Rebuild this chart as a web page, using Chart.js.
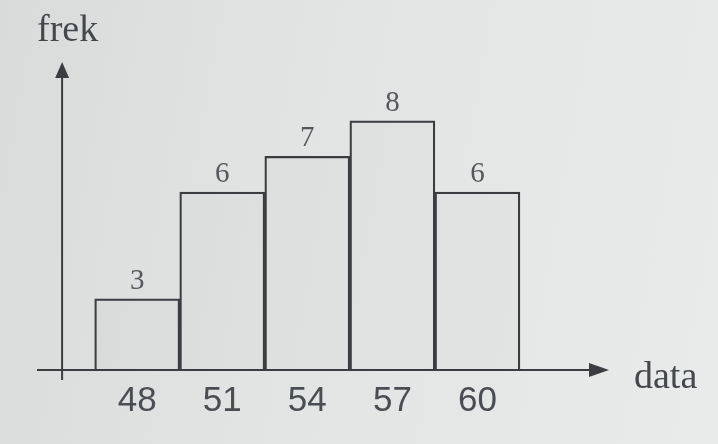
<!DOCTYPE html>
<html>
<head>
<meta charset="utf-8">
<script src="https://cdn.jsdelivr.net/npm/chart.js@4/dist/chart.umd.min.js"></script>
<style>
  html, body { margin: 0; padding: 0; }
  body {
    width: 718px; height: 444px; overflow: hidden;
    background: linear-gradient(100deg, #d9dbda 0%, #e2e4e3 40%, #e9ebea 100%);
  }
  canvas { display: block; }
</style>
</head>
<body>
<canvas id="histo" width="718" height="444"></canvas>
<script>
// Dati dell'istogramma
const classMarks = [48, 51, 54, 57, 60];
const frequencies = [3, 6, 7, 8, 6];
const xTickLabels = ["48", "51", "54", "57", "60"];
const axisTitles = ["frek", "data"];

const INK = "#3b3d40";
const TEXT = "#4a4d52";

// Assi con freccia + etichette sopra le barre
const axesPlugin = {
  id: "axesArrows",
  afterDatasetsDraw(chart) {
    const { ctx, chartArea, scales } = chart;
    const xs = scales.x;
    const yAxisX = xs.getPixelForValue(45.35);
    const baseY = chartArea.bottom;
    ctx.save();
    ctx.strokeStyle = INK;
    ctx.fillStyle = INK;
    ctx.lineWidth = 2;
    // asse y
    ctx.beginPath();
    ctx.moveTo(yAxisX, baseY + 10);
    ctx.lineTo(yAxisX, chartArea.top + 12);
    ctx.stroke();
    ctx.beginPath();
    ctx.moveTo(yAxisX, chartArea.top);
    ctx.lineTo(yAxisX - 7, chartArea.top + 16);
    ctx.lineTo(yAxisX + 7, chartArea.top + 16);
    ctx.closePath();
    ctx.fill();
    // freccia asse x
    ctx.beginPath();
    ctx.moveTo(chartArea.right + 4, baseY);
    ctx.lineTo(chartArea.right - 16, baseY - 7);
    ctx.lineTo(chartArea.right - 16, baseY + 7);
    ctx.closePath();
    ctx.fill();

    // numeri sopra le barre
    ctx.fillStyle = "#55585c";
    ctx.font = "29px 'Liberation Serif', 'DejaVu Serif', serif";
    ctx.textAlign = "center";
    ctx.textBaseline = "bottom";
    const meta = chart.getDatasetMeta(0);
    meta.data.forEach((bar, i) => {
      ctx.fillText(String(frequencies[i]), bar.x, bar.y - 3);
    });

    // titoli degli assi
    ctx.font = "38px 'Liberation Serif', 'DejaVu Serif', serif";
    ctx.textAlign = "left";
    ctx.textBaseline = "alphabetic";
    ctx.fillStyle = "#44474b";
    ctx.fillText(axisTitles[0], 37, 41);
    ctx.fillText(axisTitles[1], 634, baseY + 18);
    ctx.restore();
  }
};

new Chart(document.getElementById("histo"), {
  type: "bar",
  data: {
    datasets: [{
      data: classMarks.map((m, i) => ({ x: m, y: frequencies[i] })),
      backgroundColor: "rgba(0,0,0,0.015)",
      borderColor: INK,
      borderWidth: 1.6,
      borderSkipped: "bottom",
      barPercentage: 1,
      categoryPercentage: 1
    }]
  },
  options: {
    responsive: false,
    animation: false,
    devicePixelRatio: 1,
    layout: { padding: { left: 38, right: 113, top: 62, bottom: 12 } },
    plugins: { legend: { display: false }, tooltip: { enabled: false } },
    scales: {
      x: {
        type: "linear",
        offset: false,
        min: 44.5,
        max: 64.5,
        grid: { display: false, drawTicks: false, offset: false },
        border: { display: true, color: INK, width: 2 },
        afterBuildTicks: (scale) => { scale.ticks = classMarks.map(v => ({ value: v })); },
        ticks: {
          color: TEXT,
          padding: 10,
          font: { family: "'Liberation Sans', Arial, sans-serif", size: 35 },
          callback: (v) => xTickLabels[classMarks.indexOf(v)] ?? ""
        }
      },
      y: {
        display: false,
        min: 1,
        max: 9.65
      }
    }
  },
  plugins: [axesPlugin]
});
</script>
</body>
</html>
